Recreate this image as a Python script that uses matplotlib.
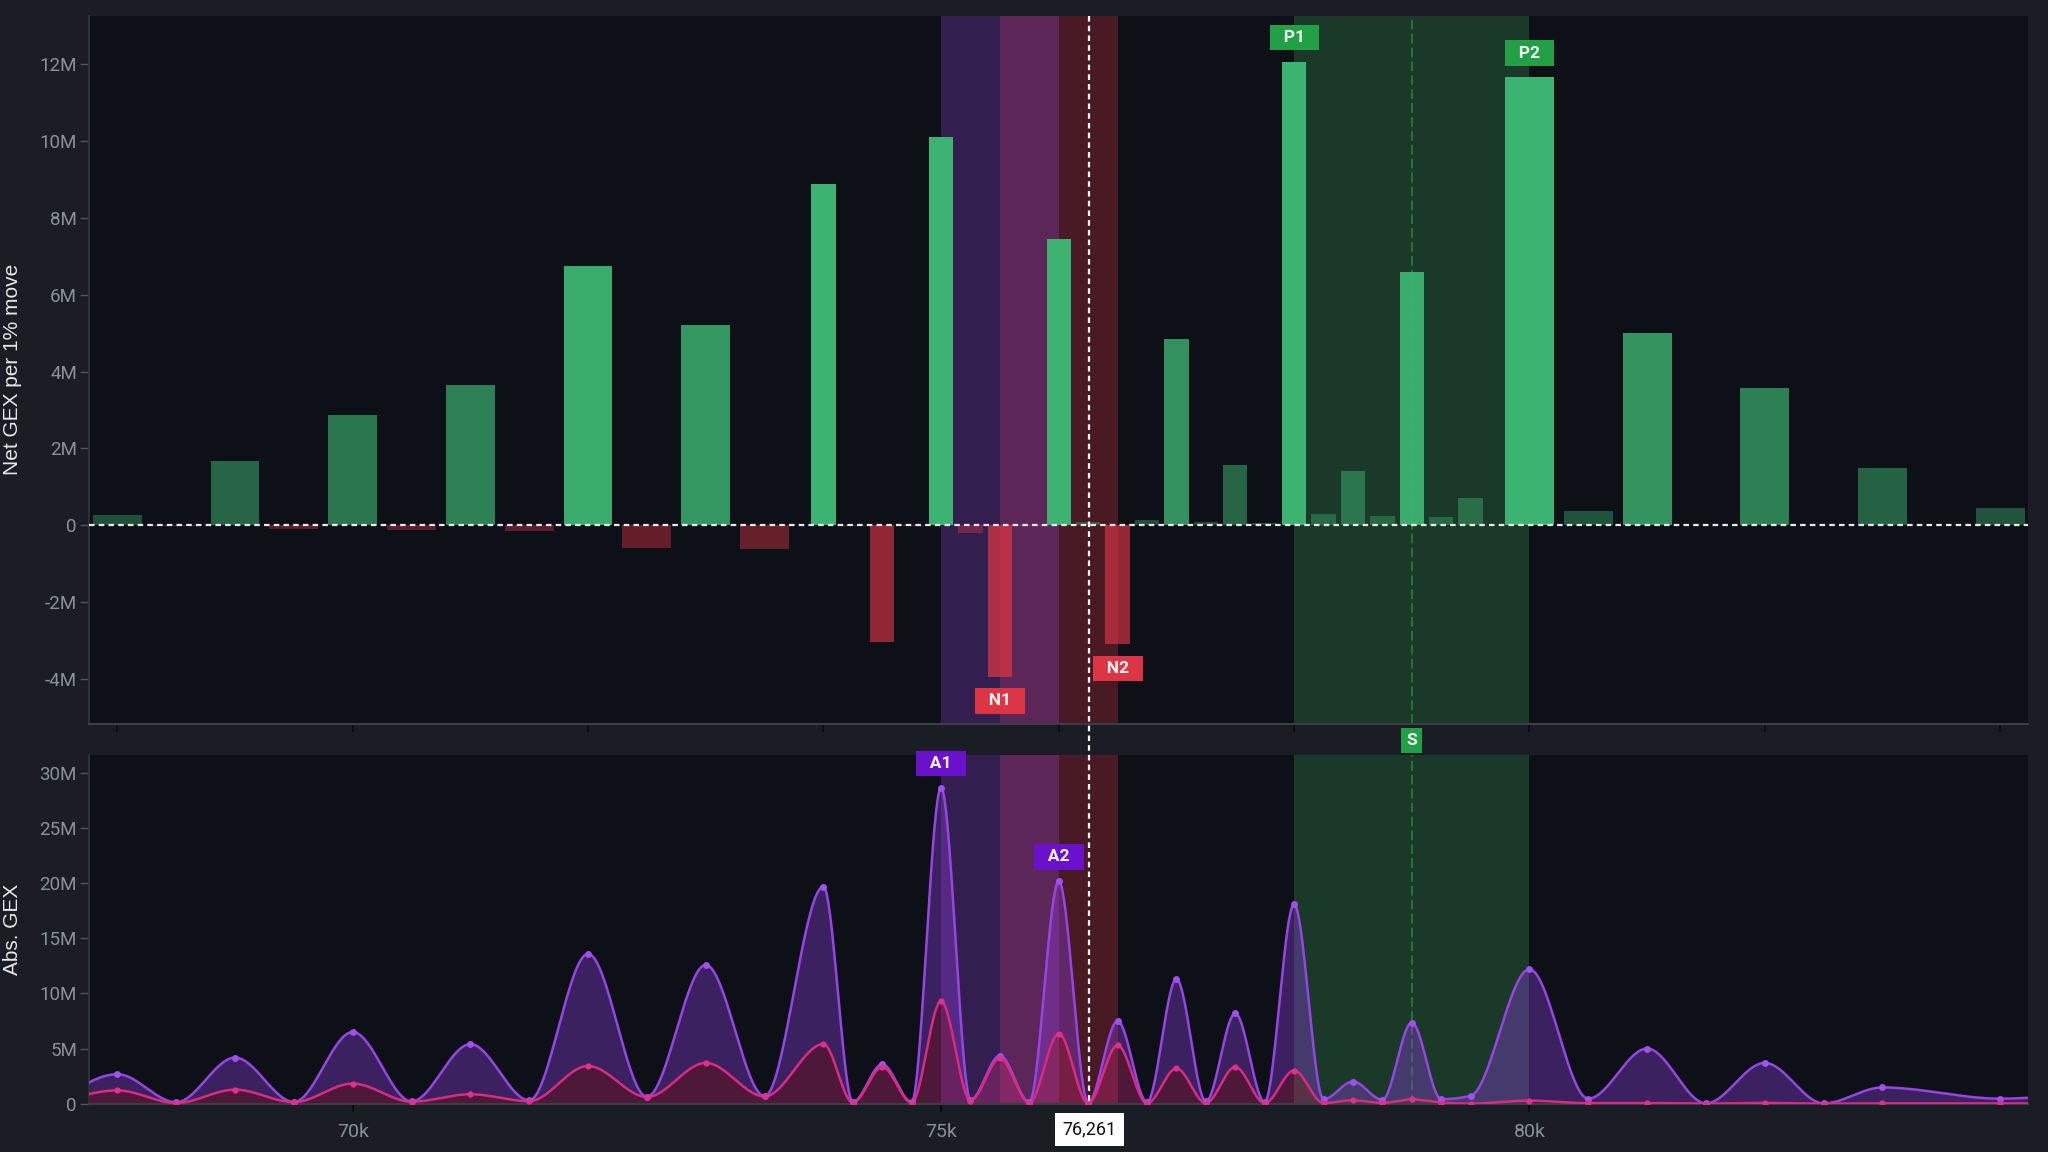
import numpy as np
import matplotlib
matplotlib.use("Agg")
import matplotlib.pyplot as plt
from matplotlib import transforms
from matplotlib.lines import Line2D
from matplotlib.ticker import FuncFormatter

plt.rcParams['font.family'] = ['Roboto', 'DejaVu Sans']
plt.rcParams['lines.scale_dashes'] = False

# ---------------- data (values in millions) ----------------
strikes = [67500, 68000, 68500, 69000, 69500, 70000, 70500, 71000, 71500, 72000,
           72500, 73000, 73500, 74000, 74250, 74500, 74750, 75000, 75250, 75500,
           75750, 76000, 76250, 76500, 76750, 77000, 77250, 77500, 77750, 78000,
           78250, 78500, 78750, 79000, 79250, 79500, 80000, 80500, 81000, 81500,
           82000, 82500, 83000, 84000, 85000]

net_gex_m = [-0.05, 0.25, -0.03, 1.68, -0.11, 2.86, -0.14, 3.64, -0.15, 6.75,
             -0.61, 5.22, -0.63, 8.89, -0.03, -3.05, -0.03, 10.12, -0.20, -3.95,
             -0.02, 7.46, 0.07, -3.10, 0.12, 4.85, 0.09, 1.56, 0.05, 12.07,
             0.29, 1.42, 0.23, 6.59, 0.21, 0.71, 11.66, 0.37, 5.00, 0.0,
             3.58, 0.0, 1.48, 0.44, 0.9]

abs_total_m = [0.10, 2.67, 0.12, 4.18, 0.15, 6.50, 0.20, 5.40, 0.30, 13.6,
               0.62, 12.6, 0.67, 19.7, 0.15, 3.58, 0.15, 28.7, 0.36, 4.36,
               0.15, 20.2, 0.10, 7.50, 0.15, 11.3, 0.20, 8.20, 0.15, 18.1,
               0.40, 2.00, 0.35, 7.35, 0.40, 0.70, 12.2, 0.45, 5.00, 0.02,
               3.70, 0.02, 1.47, 0.45, 1.50]

abs_put_m = [0.05, 1.20, 0.05, 1.27, 0.13, 1.82, 0.17, 0.85, 0.22, 3.42,
             0.60, 3.70, 0.65, 5.40, 0.09, 3.33, 0.09, 9.30, 0.28, 4.10,
             0.08, 6.36, 0.02, 5.30, 0.02, 3.20, 0.05, 3.33, 0.05, 3.00,
             0.05, 0.30, 0.06, 0.38, 0.10, 0.00, 0.27, 0.04, 0.05, 0.00,
             0.06, 0.00, 0.02, 0.01, 0.05]

spot_price = 76261
a_zone = (75000, 76000)
n_zone = (75500, 76500)
p_zone = (78000, 80000)
s_level = 79000
pos_tags = {"P1": 78000, "P2": 80000}
neg_tags = {"N1": 75500, "N2": 76500}
abs_tags = {"A1": 75000, "A2": 76000}

net_ticks = [-4, -2, 0, 2, 4, 6, 8, 10, 12]
abs_ticks = [0, 5, 10, 15, 20, 25, 30]
x_tick_vals = [70000, 75000, 80000]
x_tick_labels = ["70k", "75k", "80k"]

# ---------------- styling ----------------
FIG_BG = '#1a1d24'
AX_BG = '#0d1017'
GREEN = np.array([60, 179, 113]) / 255
RED = np.array([220, 53, 69]) / 255
TICK_TXT = '#8b9099'

x = np.array(strikes, float)
net = np.array(net_gex_m) * 1e6
tot = np.array(abs_total_m) * 1e6
put = np.array(abs_put_m) * 1e6


def monotone(xp, yp, n=40):
    xp = np.asarray(xp, float)
    yp = np.asarray(yp, float)
    h = np.diff(xp)
    s = np.diff(yp) / h
    t = np.zeros_like(yp)
    for i in range(1, len(xp) - 1):
        s0, s1 = s[i - 1], s[i]
        p = (s0 * h[i] + s1 * h[i - 1]) / (h[i - 1] + h[i])
        t[i] = (np.sign(s0) + np.sign(s1)) * min(abs(s0), abs(s1), 0.5 * abs(p))
    t[0] = (3 * s[0] - t[1]) / 2
    t[-1] = (3 * s[-1] - t[-2]) / 2
    xs, ys = [], []
    for i in range(len(h)):
        u = np.linspace(0, 1, n, endpoint=(i == len(h) - 1))
        h00 = 2 * u**3 - 3 * u**2 + 1
        h10 = u**3 - 2 * u**2 + u
        h01 = -2 * u**3 + 3 * u**2
        h11 = u**3 - u**2
        ys.append(h00 * yp[i] + h10 * h[i] * t[i] + h01 * yp[i + 1] + h11 * h[i] * t[i + 1])
        xs.append(xp[i] + u * h[i])
    return np.concatenate(xs), np.clip(np.concatenate(ys), 0, None)


fig = plt.figure(figsize=(20.48, 11.52), dpi=100, facecolor=FIG_BG)
ax1 = fig.add_axes([0.04336, 0.37196, 0.94687, 0.61441])
ax2 = fig.add_axes([0.04336, 0.04201, 0.94687, 0.30260])

XLIM = (67757, 84237)
for ax in (ax1, ax2):
    ax.set_facecolor(AX_BG)
    ax.set_xlim(*XLIM)
    for sp in ('top', 'right'):
        ax.spines[sp].set_visible(False)
    ax.spines['left'].set_color('#2c3038')
    ax.spines['left'].set_linewidth(1.5)
    ax.spines['bottom'].set_color('#3a3e46')
    ax.spines['bottom'].set_linewidth(1.5)
    ax.axvspan(*n_zone, color='#dc3545', alpha=0.29, lw=0, zorder=0.5)
    ax.axvspan(*a_zone, color='#8c45d2', alpha=0.30, lw=0, zorder=0.6)
    ax.axvspan(*p_zone, color='#3a9e58', alpha=0.29, lw=0, zorder=0.5)
    ax.axvline(s_level, color='#32a852', lw=1.3, ls=(0, (7, 3)), alpha=0.55, zorder=1)
    ax.tick_params(axis='y', length=6.5, width=1, color='#4d525b',
                   labelcolor=TICK_TXT, labelsize=13.5, pad=2)

# ---------------- top: net GEX bars ----------------
gaps = np.diff(x)
spacing = np.minimum(np.r_[gaps[0], gaps], np.r_[gaps, gaps[-1]])
widths = 0.83 * np.minimum(spacing, 500)
maxabs = np.abs(net).max()
colors = []
for v in net:
    a = min(1.0, 0.38 + 1.05 * abs(v) / maxabs)
    base = GREEN if v >= 0 else RED
    colors.append((*base, a))
ax1.bar(x, net, width=widths, color=colors, lw=0, zorder=2)
ax1.axhline(0, color='#e8e8e8', lw=1.6, ls=(0, (4, 3)), zorder=3)
ax1.set_ylim(-5.17e6, 13.27e6)
ax1.set_yticks([v * 1e6 for v in net_ticks])
ax1.yaxis.set_major_formatter(FuncFormatter(lambda v, p: "0" if abs(v) < 1 else f"{v/1e6:.0f}M"))
ax1.set_xticks(list(range(68000, 84001, 2000)))
ax1.tick_params(axis='x', length=6, width=1.5, color='#0a0c10', labelbottom=False)

# ---------------- bottom: abs GEX curves ----------------
cx, cy_tot = monotone(x, tot)
_, cy_put = monotone(x, put)
ax2.fill_between(cx, cy_put, np.maximum(cy_tot, cy_put), color='#8a3ddb', alpha=0.38, lw=0, zorder=2)
ax2.fill_between(cx, 0, cy_put, color='#d92b82', alpha=0.32, lw=0, zorder=2)
ax2.plot(cx, cy_tot, color='#9646e0', lw=1.8, zorder=3)
ax2.plot(cx, cy_put, color='#d92b82', lw=1.8, zorder=3)
ax2.plot(x, tot, 'o', ms=5, color='#a050ee', mec='none', zorder=4)
ax2.plot(x, put, 'o', ms=4.5, color='#e0308a', mec='none', zorder=4)
ax2.set_ylim(0, 31.66e6)
ax2.set_yticks([v * 1e6 for v in abs_ticks])
ax2.yaxis.set_major_formatter(FuncFormatter(lambda v, p: "0" if abs(v) < 1 else f"{v/1e6:.0f}M"))
ax2.set_xticks(x_tick_vals)
ax2.set_xticklabels(x_tick_labels)
ax2.tick_params(axis='x', length=6, width=1.5, color='#0a0c10', labelcolor=TICK_TXT,
                labelsize=14, pad=8)

# ---------------- spot line ----------------
blend = transforms.blended_transform_factory(ax1.transData, fig.transFigure)
fig.add_artist(Line2D([spot_price, spot_price], [0.98637, 0.04201], transform=blend,
                      color='white', lw=1.6, ls=(0, (4, 3)), zorder=5))
fig.text(spot_price, 0.0195, f"{spot_price:,}", transform=blend, ha='center', va='center',
         fontsize=13, color='#111111', zorder=7,
         bbox=dict(boxstyle='square,pad=0.4', fc='white', ec='none'))

# ---------------- tags ----------------
def tag(ax, xv, yv, text, fc, dy):
    ax.annotate(f"  {text}  ", (xv, yv), xytext=(0, dy), textcoords='offset points',
                ha='center', va='center', fontsize=12.5, fontweight='bold', color='#f2f2f2',
                bbox=dict(boxstyle='square,pad=0.3', fc=fc, ec='none'),
                zorder=8, annotation_clip=False)

for name, k in pos_tags.items():
    tag(ax1, k, net[strikes.index(k)], name, '#22a045', 17.5)
for name, k in neg_tags.items():
    tag(ax1, k, net[strikes.index(k)], name, '#dc3545', -17.5)
for name, k in abs_tags.items():
    tag(ax2, k, tot[strikes.index(k)], name, '#6a11cb', 17.5)
ax2.annotate("S", (s_level, 1.0), xycoords=('data', 'axes fraction'), xytext=(0, 10.5),
             textcoords='offset points', ha='center', va='center', fontsize=12.5,
             fontweight='bold', color='#f2f2f2',
             bbox=dict(boxstyle='square,pad=0.3', fc='#22a045', ec='none'),
             zorder=8, annotation_clip=False)

# ---------------- axis titles ----------------
fig.text(13 / 2048, 1 - 369.6 / 1152, "Net GEX per 1% move", rotation=90, ha='center', va='center',
         fontsize=15, color='#e8e8e8', family=['Liberation Sans', 'DejaVu Sans'])
fig.text(13 / 2048, 1 - 929 / 1152, "Abs. GEX", rotation=90, ha='center', va='center',
         fontsize=15, color='#e8e8e8', family=['Liberation Sans', 'DejaVu Sans'])

fig.savefig("out.png", dpi=100, facecolor=FIG_BG)
